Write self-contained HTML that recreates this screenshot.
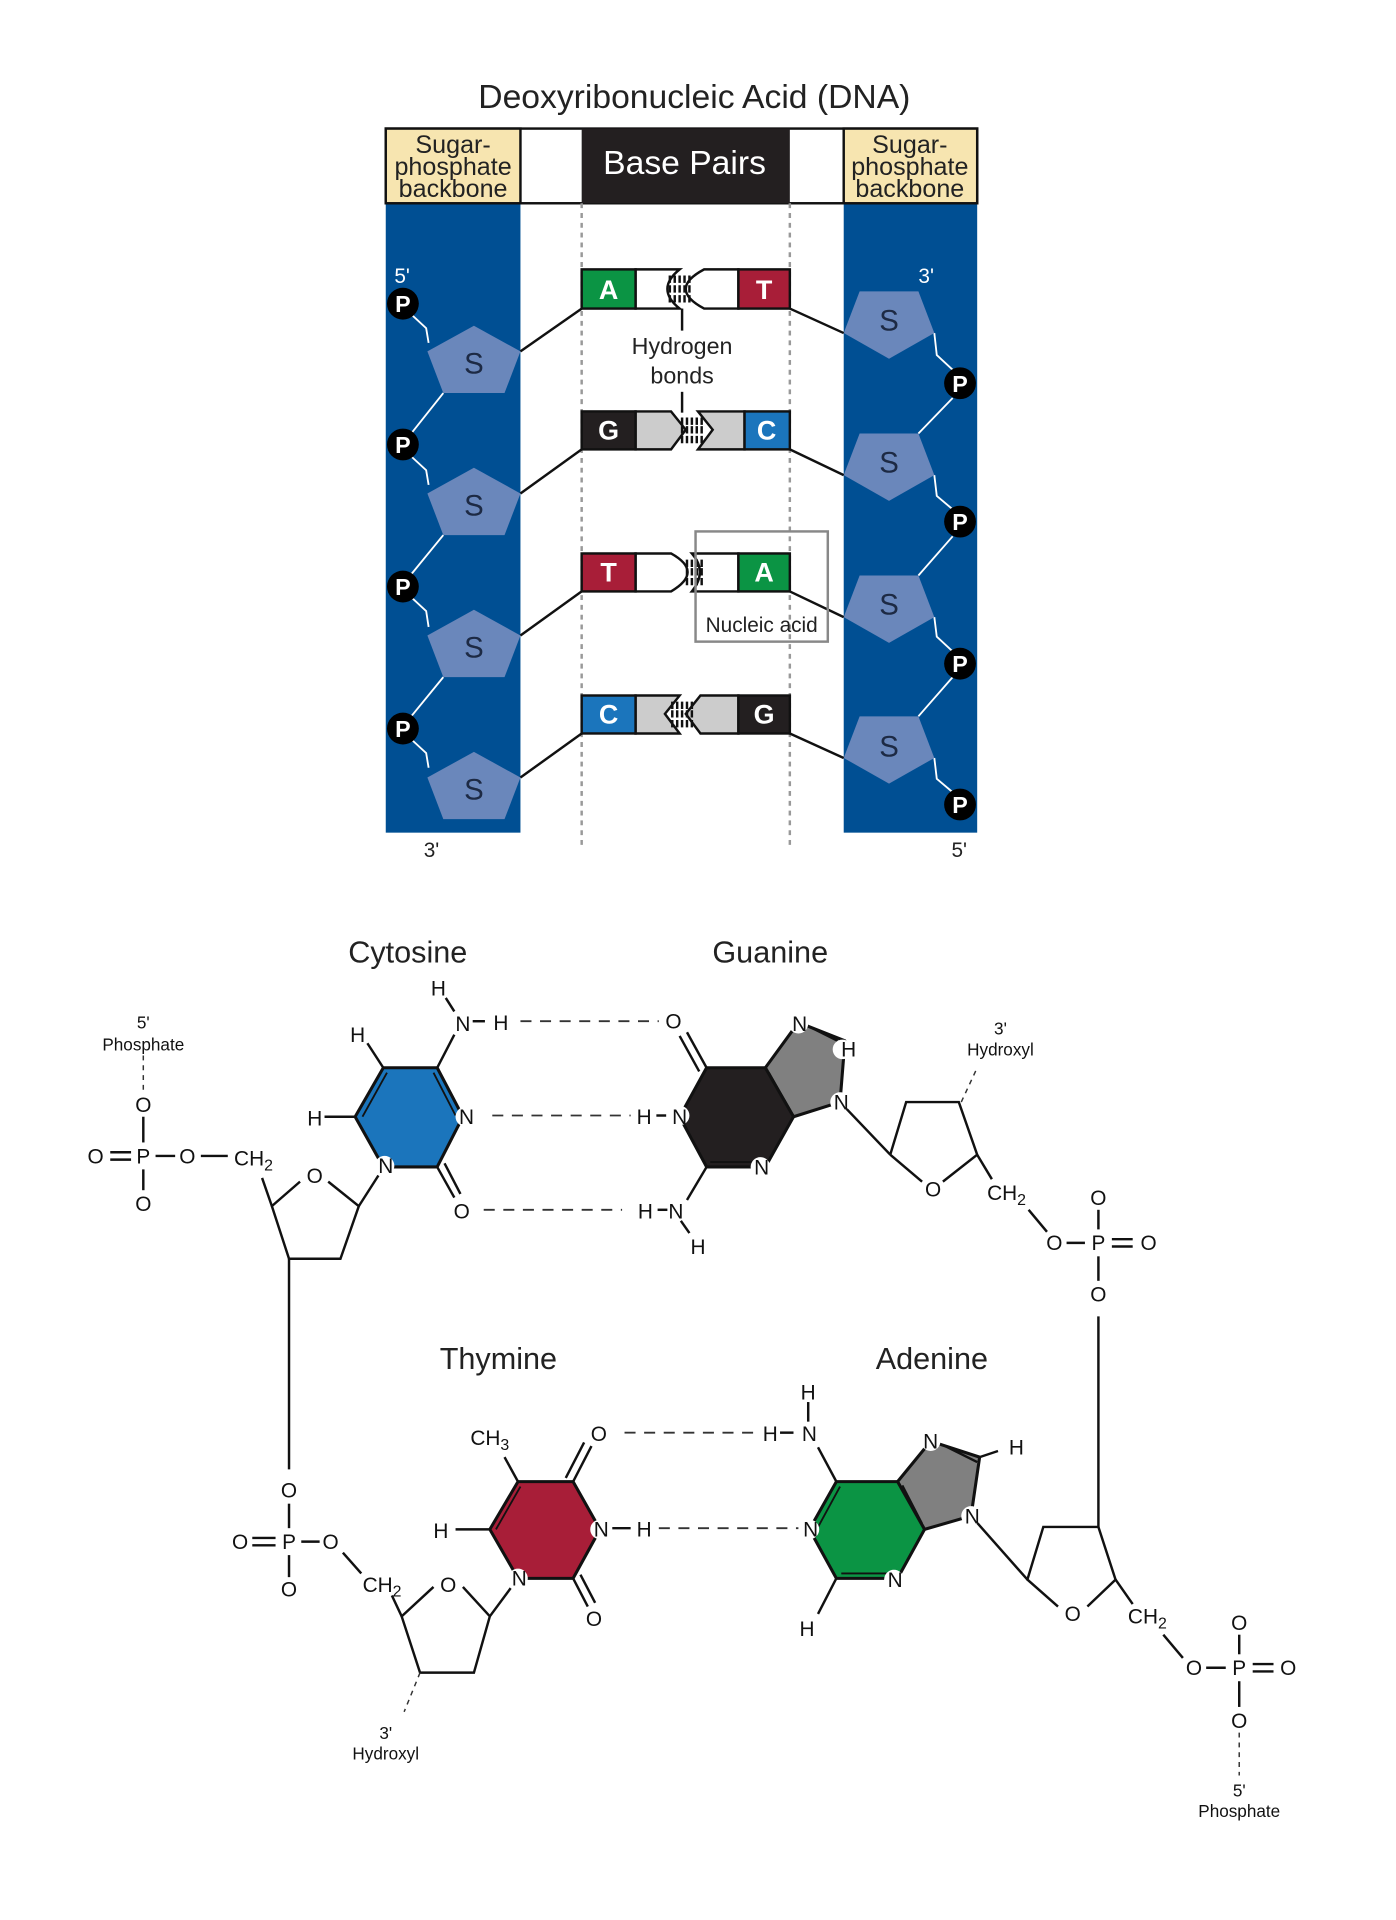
<!DOCTYPE html>
<html><head><meta charset="utf-8"><style>
html,body{margin:0;padding:0;background:#fff;}
svg{display:block;}
text{font-family:"Liberation Sans",sans-serif;}
</style></head><body>
<svg width="1396" height="1920" viewBox="0 0 1140 1568" xmlns="http://www.w3.org/2000/svg">
<!-- TOP -->
<text x="567" y="88" font-size="27.5" text-anchor="middle" fill="#222">Deoxyribonucleic Acid (DNA)</text>
<rect x="315" y="166" width="110" height="514" fill="#004f93"/>
<rect x="689" y="166" width="109" height="514" fill="#004f93"/>
<rect x="315" y="105" width="483" height="61" fill="#fff" stroke="#111" stroke-width="2"/>
<rect x="315" y="105" width="110" height="61" fill="#f7e5b0" stroke="#111" stroke-width="2"/>
<rect x="689" y="105" width="109" height="61" fill="#f7e5b0" stroke="#111" stroke-width="2"/>
<rect x="475" y="105" width="170" height="61" fill="#231f20"/>
<text x="559" y="142" font-size="27.5" fill="#fff" text-anchor="middle">Base Pairs</text>
<g font-size="20.5" text-anchor="middle" fill="#222">
<text x="370" y="125">Sugar-</text><text x="370" y="143">phosphate</text><text x="370" y="161">backbone</text>
<text x="743" y="125">Sugar-</text><text x="743" y="143">phosphate</text><text x="743" y="161">backbone</text>
</g>
<line x1="475" y1="166" x2="475" y2="692" stroke="#999" stroke-width="2" stroke-dasharray="4,4"/>
<line x1="645" y1="166" x2="645" y2="692" stroke="#999" stroke-width="2" stroke-dasharray="4,4"/>
<g font-size="17" fill="#fff"><text x="322" y="231">5'</text><text x="750" y="231">3'</text></g>
<g font-size="17" fill="#222"><text x="346" y="700">3'</text><text x="777" y="700">5'</text></g>
<g stroke="#fff" stroke-width="1.5" fill="none">
<polyline points="335,256 348,268 350,280"/><polyline points="362,321 335,355"/>
<polyline points="335,372 348,384 350,396"/><polyline points="362,437 335,470"/>
<polyline points="335,487 348,499 350,512"/><polyline points="362,553 335,586"/>
<polyline points="335,603 348,615 350,627"/>
<polyline points="763,272 765,290 778,302"/><polyline points="778,325 750,354"/>
<polyline points="763,388 765,405 778,416"/><polyline points="778,438 750,470"/>
<polyline points="763,504 765,520 778,532"/><polyline points="778,553 750,585"/>
<polyline points="763,619 765,636 778,647"/>
</g>
<g fill="#6a87bb">
<polygon points="387,266 425,287 412,321 362,321 349,287"/>
<polygon points="387,382 425,403 412,437 362,437 349,403"/>
<polygon points="387,498 425,519 412,553 362,553 349,519"/>
<polygon points="387,614 425,635 412,669 362,669 349,635"/>
<polygon points="726,293 689,272 702,238 750,238 763,272"/>
<polygon points="726,409 689,388 702,354 750,354 763,388"/>
<polygon points="726,525 689,504 702,470 750,470 763,504"/>
<polygon points="726,640 689,619 702,585 750,585 763,619"/>
</g>
<g font-size="24" fill="#1d2a44" text-anchor="middle">
<text x="387" y="305">S</text><text x="387" y="421">S</text><text x="387" y="537">S</text><text x="387" y="653">S</text>
<text x="726" y="270">S</text><text x="726" y="386">S</text><text x="726" y="502">S</text><text x="726" y="618">S</text>
</g>
<g fill="#000"><circle cx="329" cy="248" r="13"/><circle cx="329" cy="363" r="13"/><circle cx="329" cy="479" r="13"/><circle cx="329" cy="595" r="13"/>
<circle cx="784" cy="313" r="13"/><circle cx="784" cy="426" r="13"/><circle cx="784" cy="542" r="13"/><circle cx="784" cy="657" r="13"/></g>
<g font-size="19" font-weight="bold" fill="#fff" text-anchor="middle">
<text x="329" y="255">P</text><text x="329" y="370">P</text><text x="329" y="486">P</text><text x="329" y="602">P</text>
<text x="784" y="320">P</text><text x="784" y="433">P</text><text x="784" y="549">P</text><text x="784" y="664">P</text>
</g>
<g stroke="#111" stroke-width="2">
<line x1="425" y1="287" x2="475" y2="252"/><line x1="425" y1="403" x2="475" y2="367"/><line x1="425" y1="519" x2="475" y2="483"/><line x1="425" y1="635" x2="475" y2="599"/>
<line x1="645" y1="252" x2="689" y2="272"/><line x1="645" y1="367" x2="689" y2="388"/><line x1="645" y1="483" x2="689" y2="504"/><line x1="645" y1="599" x2="689" y2="619"/>
</g>
<g stroke="#111" stroke-width="2">
<path d="M519,220 H555 Q535,236 555,252 H519 Z" fill="#fff"/>
<path d="M603,220 H575 Q545,236 575,252 H603 Z" fill="#fff"/>
<rect x="475" y="220" width="44" height="32" fill="#0b9444"/><rect x="603" y="220" width="42" height="32" fill="#a81e38"/>
<path d="M519,336 H548 L560,351 L548,367 H519 Z" fill="#ccc"/>
<path d="M608,336 H570 L582,351 L570,367 H608 Z" fill="#ccc"/>
<rect x="475" y="336" width="44" height="31" fill="#231f20"/><rect x="608" y="336" width="37" height="31" fill="#1b75bc"/>
<path d="M519,452 H548 Q575,467 548,483 H519 Z" fill="#fff"/>
<path d="M603,452 H565 Q578,467 565,483 H603 Z" fill="#fff"/>
<rect x="475" y="452" width="44" height="31" fill="#a81e38"/><rect x="603" y="452" width="42" height="31" fill="#0b9444"/>
<path d="M519,568 H555 L543,583 L555,599 H519 Z" fill="#ccc"/>
<path d="M603,568 H572 L560,583 L572,599 H603 Z" fill="#ccc"/>
<rect x="475" y="568" width="44" height="31" fill="#1b75bc"/><rect x="603" y="568" width="42" height="31" fill="#231f20"/>
</g>
<g stroke="#111" stroke-width="6" stroke-dasharray="2,2">
<line x1="546" y1="228" x2="565" y2="228"/><line x1="546" y1="236" x2="565" y2="236"/><line x1="546" y1="244" x2="565" y2="244"/>
<line x1="556" y1="344" x2="574" y2="344"/><line x1="556" y1="351" x2="574" y2="351"/><line x1="556" y1="359" x2="574" y2="359"/>
<line x1="560" y1="460" x2="574" y2="460"/><line x1="560" y1="467" x2="574" y2="467"/><line x1="560" y1="475" x2="574" y2="475"/>
<line x1="548" y1="576" x2="568" y2="576"/><line x1="548" y1="583" x2="568" y2="583"/><line x1="548" y1="591" x2="568" y2="591"/>
</g>
<g font-size="22" font-weight="bold" fill="#fff" text-anchor="middle">
<text x="497" y="244">A</text><text x="624" y="244">T</text>
<text x="497" y="359">G</text><text x="626" y="359">C</text>
<text x="497" y="475">T</text><text x="624" y="475">A</text>
<text x="497" y="591">C</text><text x="624" y="591">G</text>
</g>
<g stroke="#111" stroke-width="2"><line x1="557" y1="252" x2="557" y2="270"/><line x1="557" y1="320" x2="557" y2="337"/></g>
<g font-size="19" fill="#222" text-anchor="middle"><text x="557" y="289">Hydrogen</text><text x="557" y="313">bonds</text></g>
<rect x="568" y="434" width="108" height="90" fill="none" stroke="#888" stroke-width="2"/>
<text x="622" y="516" font-size="17" fill="#222" text-anchor="middle">Nucleic acid</text>

<!-- BOTTOM -->
<g font-size="25" fill="#222" text-anchor="middle">
<text x="333" y="786">Cytosine</text><text x="629" y="786">Guanine</text>
<text x="407" y="1118">Thymine</text><text x="761" y="1118">Adenine</text>
</g>
<g stroke="#111" stroke-width="2.5" stroke-linejoin="round">
<polygon points="313,872 357,872 378,912 357,953 313,953 290,912" fill="#1b75bc"/>
<polygon points="625,872 652,835 690,850 686,900 648,912" fill="#808080"/>
<polygon points="577,872 625,872 648,912 625,953 577,953 555,912" fill="#231f20"/>
<polygon points="423,1210 468,1210 490,1249 468,1289 423,1289 400,1249" fill="#a81e38"/>
<polygon points="733,1210 760,1177 800,1190 793,1238 755,1249" fill="#808080"/>
<polygon points="683,1210 733,1210 755,1249 733,1289 683,1289 661,1249" fill="#0b9444"/>
</g>
<g stroke="#111" stroke-width="2" fill="none">
<line x1="313" y1="872" x2="300" y2="852"/><line x1="290" y1="912" x2="265" y2="912"/>
<line x1="357" y1="872" x2="371" y2="845"/><line x1="364" y1="815" x2="371" y2="826"/><line x1="386" y1="834" x2="396" y2="834"/>
<line x1="357" y1="953" x2="371" y2="978"/><line x1="363" y1="950" x2="376" y2="975"/>
<line x1="577" y1="872" x2="561" y2="843"/><line x1="571" y1="875" x2="555" y2="846"/>
<line x1="577" y1="953" x2="561" y2="980"/><line x1="536" y1="911" x2="544" y2="911"/><line x1="537" y1="988" x2="545" y2="988"/><line x1="556" y1="997" x2="563" y2="1007"/>
<line x1="664" y1="840" x2="684" y2="850"/>
<line x1="686" y1="900" x2="727" y2="943"/>
<polyline points="727,943 740,900 783,900 798,943 770,965"/><line x1="727" y1="943" x2="753" y2="965"/>
<line x1="798" y1="943" x2="810" y2="963"/><line x1="840" y1="988" x2="855" y2="1006"/>
<line x1="871" y1="1015" x2="886" y2="1015"/><line x1="897" y1="988" x2="897" y2="1004"/><line x1="897" y1="1026" x2="897" y2="1046"/>
<line x1="908" y1="1012" x2="925" y2="1012"/><line x1="908" y1="1018" x2="925" y2="1018"/>
<line x1="897" y1="1075" x2="897" y2="1247"/>
<line x1="117" y1="912" x2="117" y2="933"/><line x1="117" y1="955" x2="117" y2="972"/>
<line x1="90" y1="941" x2="107" y2="941"/><line x1="90" y1="947" x2="107" y2="947"/>
<line x1="127" y1="944" x2="143" y2="944"/><line x1="164" y1="944" x2="186" y2="944"/>
<line x1="214" y1="962" x2="222" y2="985"/>
<polyline points="245,965 222,985 236,1028 278,1028 293,985 268,965"/>
<line x1="293" y1="985" x2="309" y2="960"/>
<line x1="236" y1="1028" x2="236" y2="1200"/>
<line x1="236" y1="1228" x2="236" y2="1248"/><line x1="236" y1="1270" x2="236" y2="1288"/>
<line x1="206" y1="1256" x2="225" y2="1256"/><line x1="206" y1="1262" x2="225" y2="1262"/>
<line x1="246" y1="1259" x2="261" y2="1259"/><line x1="280" y1="1268" x2="295" y2="1285"/>
<line x1="320" y1="1303" x2="328" y2="1320"/>
<polyline points="354,1296 328,1320 343,1366 387,1366 400,1320 378,1296"/>
<line x1="400" y1="1320" x2="417" y2="1297"/>
<line x1="423" y1="1210" x2="412" y2="1190"/><line x1="400" y1="1249" x2="372" y2="1249"/>
<line x1="468" y1="1210" x2="483" y2="1181"/><line x1="462" y1="1207" x2="477" y2="1178"/>
<line x1="468" y1="1289" x2="480" y2="1312"/><line x1="474" y1="1286" x2="486" y2="1309"/>
<line x1="500" y1="1248" x2="515" y2="1248"/>
<line x1="660" y1="1145" x2="660" y2="1161"/><line x1="637" y1="1170" x2="648" y2="1170"/>
<line x1="683" y1="1210" x2="668" y2="1182"/>
<line x1="683" y1="1289" x2="668" y2="1318"/>
<line x1="772" y1="1181" x2="798" y2="1194"/><line x1="800" y1="1190" x2="815" y2="1185"/>
<line x1="793" y1="1238" x2="839" y2="1290"/>
<polyline points="864,1312 839,1290 852,1247 897,1247 911,1290 888,1312"/>
<line x1="911" y1="1290" x2="925" y2="1310"/><line x1="950" y1="1335" x2="966" y2="1354"/>
<line x1="985" y1="1362" x2="1001" y2="1362"/><line x1="1012" y1="1335" x2="1012" y2="1351"/><line x1="1012" y1="1373" x2="1012" y2="1394"/>
<line x1="1023" y1="1359" x2="1040" y2="1359"/><line x1="1023" y1="1365" x2="1040" y2="1365"/>
</g>
<g stroke="#111" stroke-width="1.5">
<line x1="296" y1="912" x2="316" y2="876"/><line x1="354" y1="876" x2="372" y2="911"/>
<line x1="628" y1="876" x2="646" y2="908"/><line x1="580" y1="949" x2="620" y2="949"/>
<line x1="405" y1="1249" x2="425" y2="1214"/>
<line x1="667" y1="1249" x2="686" y2="1214"/><line x1="687" y1="1285" x2="728" y2="1285"/><line x1="737" y1="1213" x2="753" y2="1244"/>
</g>
<g stroke="#333" stroke-width="1.5" stroke-dasharray="9,7">
<line x1="425" y1="834" x2="538" y2="834"/><line x1="402" y1="911" x2="515" y2="911"/><line x1="395" y1="988" x2="508" y2="988"/>
<line x1="510" y1="1170" x2="622" y2="1170"/><line x1="538" y1="1248" x2="652" y2="1248"/>
</g>
<g stroke="#333" stroke-width="1.2" stroke-dasharray="4,4">
<line x1="117" y1="862" x2="117" y2="890"/><line x1="785" y1="900" x2="798" y2="872"/>
<line x1="343" y1="1366" x2="330" y2="1398"/><line x1="1012" y1="1415" x2="1012" y2="1450"/>
</g>
<g fill="#fff">
<circle cx="380" cy="912" r="8"/><circle cx="314" cy="952" r="8"/><circle cx="555" cy="911" r="8"/><circle cx="621" cy="953" r="8"/>
<circle cx="652" cy="836" r="8"/><circle cx="688" cy="857" r="8"/><circle cx="686" cy="900" r="8"/>
<circle cx="490" cy="1249" r="8"/><circle cx="423" cy="1289" r="8"/><circle cx="661" cy="1249" r="8"/><circle cx="730" cy="1290" r="8"/>
<circle cx="760" cy="1177" r="8"/><circle cx="793" cy="1238" r="8"/>
</g>
<g font-size="17" fill="#111" text-anchor="middle">
<text x="292" y="851">H</text><text x="257" y="919">H</text><text x="358" y="813">H</text><text x="378" y="842">N</text><text x="409" y="841">H</text>
<text x="381" y="918">N</text><text x="315" y="958">N</text><text x="377" y="995">O</text>
<text x="550" y="840">O</text><text x="526" y="918">H</text><text x="555" y="918">N</text><text x="622" y="959">N</text>
<text x="527" y="995">H</text><text x="552" y="995">N</text><text x="570" y="1024">H</text>
<text x="653" y="842">N</text><text x="693" y="863">H</text><text x="687" y="906">N</text>
<text x="762" y="977">O</text><text x="822" y="980">CH<tspan font-size="13" dy="4">2</tspan></text>
<text x="861" y="1021">O</text><text x="897" y="1021">P</text><text x="897" y="984">O</text><text x="897" y="1063">O</text><text x="938" y="1021">O</text>
<text x="117" y="908">O</text><text x="117" y="950">P</text><text x="78" y="950">O</text><text x="153" y="950">O</text><text x="117" y="989">O</text>
<text x="207" y="952">CH<tspan font-size="13" dy="4">2</tspan></text><text x="257" y="966">O</text>
<text x="236" y="1223">O</text><text x="236" y="1265">P</text><text x="196" y="1265">O</text><text x="270" y="1265">O</text><text x="236" y="1304">O</text>
<text x="312" y="1300">CH<tspan font-size="13" dy="4">2</tspan></text><text x="366" y="1300">O</text>
<text x="876" y="1324">O</text><text x="937" y="1326">CH<tspan font-size="13" dy="4">2</tspan></text>
<text x="975" y="1368">O</text><text x="1012" y="1368">P</text><text x="1012" y="1331">O</text><text x="1012" y="1411">O</text><text x="1052" y="1368">O</text>
<text x="400" y="1180">CH<tspan font-size="13" dy="4">3</tspan></text><text x="360" y="1256">H</text><text x="489" y="1177">O</text>
<text x="491" y="1255">N</text><text x="526" y="1255">H</text><text x="424" y="1295">N</text><text x="485" y="1328">O</text>
<text x="660" y="1143">H</text><text x="629" y="1177">H</text><text x="661" y="1177">N</text><text x="662" y="1255">N</text>
<text x="731" y="1296">N</text><text x="659" y="1336">H</text><text x="760" y="1183">N</text><text x="830" y="1188">H</text><text x="794" y="1244">N</text>
</g>
<g font-size="14" fill="#111" text-anchor="middle">
<text x="117" y="840">5'</text><text x="117" y="858">Phosphate</text>
<text x="817" y="845">3'</text><text x="817" y="862">Hydroxyl</text>
<text x="315" y="1420">3'</text><text x="315" y="1437">Hydroxyl</text>
<text x="1012" y="1467">5'</text><text x="1012" y="1484">Phosphate</text>
</g>
</svg>
</body></html>
